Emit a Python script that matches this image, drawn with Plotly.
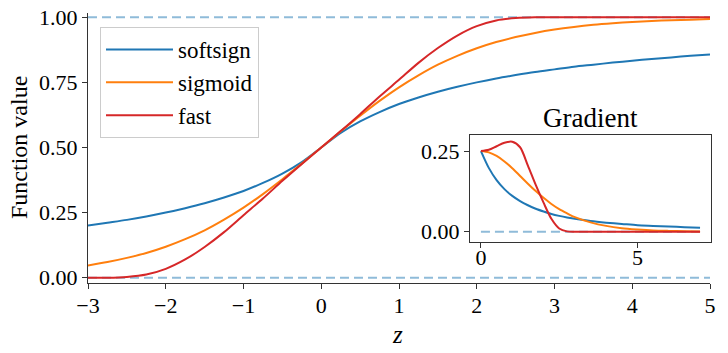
import plotly.graph_objects as go

# ---- data ----
z = [-3.0, -2.75, -2.5, -2.25, -2.0, -1.75, -1.5, -1.25, -1.0, -0.75, -0.5, -0.25,
     0.0, 0.25, 0.5, 0.75, 1.0, 1.25, 1.5, 1.75, 2.0, 2.25, 2.5, 2.75,
     3.0, 3.25, 3.5, 3.75, 4.0, 4.25, 4.5, 4.75, 5.0]
softsign = [0.200, 0.211, 0.222, 0.235, 0.250, 0.267, 0.286, 0.308, 0.333, 0.364, 0.400, 0.444,
            0.500, 0.556, 0.600, 0.636, 0.667, 0.692, 0.714, 0.733, 0.750, 0.765, 0.778, 0.790,
            0.800, 0.810, 0.818, 0.826, 0.833, 0.840, 0.846, 0.852, 0.857]
sigmoid = [0.047, 0.060, 0.076, 0.095, 0.119, 0.148, 0.182, 0.223, 0.269, 0.321, 0.378, 0.438,
           0.500, 0.562, 0.622, 0.679, 0.731, 0.777, 0.818, 0.852, 0.881, 0.905, 0.924, 0.940,
           0.953, 0.963, 0.971, 0.977, 0.982, 0.986, 0.989, 0.991, 0.993]
fast = [0.000, 0.000, 0.003, 0.012, 0.034, 0.070, 0.118, 0.175, 0.240, 0.304, 0.372, 0.437,
        0.500, 0.563, 0.628, 0.696, 0.760, 0.825, 0.882, 0.930, 0.966, 0.988, 0.997, 1.000,
        1.000, 1.000, 1.000, 1.000, 1.000, 1.000, 1.000, 1.000, 1.000]

zg = [0.0, 0.25, 0.5, 0.75, 1.0, 1.25, 1.5, 1.75, 2.0, 2.25, 2.5, 2.75, 3.0,
      3.5, 4.0, 4.5, 5.0, 5.5, 6.0, 6.5, 7.0]
grad_softsign = [0.250, 0.198, 0.160, 0.132, 0.111, 0.095, 0.082, 0.071, 0.0625, 0.055, 0.049, 0.044, 0.040,
                 0.033, 0.028, 0.024, 0.020, 0.018, 0.016, 0.014, 0.012]
grad_sigmoid = [0.250, 0.246, 0.235, 0.218, 0.197, 0.173, 0.149, 0.126, 0.105, 0.086, 0.070, 0.057, 0.045,
                0.029, 0.018, 0.011, 0.007, 0.004, 0.0025, 0.0015, 0.0009]
grad_fast = [0.250, 0.254, 0.265, 0.276, 0.279, 0.262, 0.205, 0.145, 0.090, 0.040, 0.010, 0.001, 0.000,
             0.000, 0.000, 0.000, 0.000, 0.000, 0.000, 0.000, 0.000]

bounds_x = [-3, 5]
lower = [0, 0]
upper = [1, 1]
inset_x = [0, 7]
inset_zero = [0, 0]

names = ["softsign", "sigmoid", "fast"]
colors = ["#1f77b4", "#ff7f0e", "#d62728"]
FONT = "Liberation Serif, Times New Roman, Tinos, DejaVu Serif, serif"
dash_color = "rgba(31,119,180,0.5)"

# body margin is removed below, so the figure fills the 728x353 window
W, H, OFF = 728, 353, 0
def px(x):
    return (x - OFF) / W
def py(y):
    return (H - (y - OFF)) / H

fig = go.Figure()

for yy in (lower, upper):
    fig.add_trace(go.Scatter(x=bounds_x, y=yy, mode="lines", showlegend=False,
                             line=dict(color=dash_color, width=2, dash="9px,5px"),
                             hoverinfo="skip", xaxis="x", yaxis="y"))

for name, ys, c in zip(names, [softsign, sigmoid, fast], colors):
    fig.add_trace(go.Scatter(x=z, y=ys, mode="lines", name=name, legendgroup=name,
                             line=dict(color=c, width=2, shape="spline", smoothing=0.8),
                             xaxis="x", yaxis="y"))

fig.add_trace(go.Scatter(x=inset_x, y=inset_zero, mode="lines", showlegend=False,
                         line=dict(color=dash_color, width=2, dash="9px,5px"),
                         hoverinfo="skip", xaxis="x2", yaxis="y2"))
for name, ys, c in zip(names, [grad_softsign, grad_sigmoid, grad_fast], colors):
    fig.add_trace(go.Scatter(x=zg, y=ys, mode="lines", name=name, showlegend=False,
                             line=dict(color=c, width=2, shape="spline", smoothing=0.8),
                             xaxis="x2", yaxis="y2"))

axis_common = dict(showgrid=False, zeroline=False, showline=True, linecolor="#333333",
                   linewidth=1.2, ticks="outside", ticklen=5, tickwidth=1.2, tickcolor="#333333",
                   automargin=False, ticklabeloverflow="allow",
                   tickfont=dict(family=FONT, size=22, color="black"))

fig.update_layout(
    width=W, height=H,
    margin=dict(l=0, r=0, t=0, b=0),
    paper_bgcolor="white", plot_bgcolor="white",
    font=dict(family=FONT, size=22, color="black"),
    xaxis=dict(domain=[px(88), px(710)], range=[-3, 5], tickvals=[-3, -2, -1, 0, 1, 2, 3, 4, 5],
               ticktext=["\u22123", "\u22122", "\u22121", "0", "1", "2", "3", "4", "5"],
               ticklabelstandoff=-3, anchor="y", **axis_common),
    yaxis=dict(domain=[py(283), py(13)], range=[-0.0204, 1.0165],
               tickvals=[0, 0.25, 0.5, 0.75, 1.0], ticktext=["0.00", "0.25", "0.50", "0.75", "1.00"],
               anchor="x", **axis_common),
    xaxis2=dict(domain=[px(470), px(711)], range=[-0.35, 7.35], tickvals=[0, 5],
                ticklabelstandoff=-10, anchor="y2", mirror=True, **axis_common),
    yaxis2=dict(domain=[py(242), py(135)], range=[-0.032, 0.30],
                tickvals=[0, 0.25], ticktext=["0.00", "0.25"],
                anchor="x2", mirror=True, **axis_common),
    legend=dict(x=px(100), y=py(27), xanchor="left", yanchor="top",
                bordercolor="#cccccc", borderwidth=1, bgcolor="rgba(255,255,255,0.8)",
                font=dict(family=FONT, size=23), tracegroupgap=0, itemwidth=67),
    annotations=[
        dict(text="Gradient", x=px(590.5), y=py(118), xref="paper", yref="paper",
             showarrow=False, xanchor="center", yanchor="middle",
             font=dict(family=FONT, size=27, color="black")),
        dict(text="<i>z</i>", x=px(398), y=py(334), xref="paper", yref="paper",
             showarrow=False, xanchor="center", yanchor="middle",
             font=dict(family=FONT, size=25, color="black")),
        dict(text="Function value", x=px(19), y=py(148), xref="paper", yref="paper",
             showarrow=False, xanchor="center", yanchor="middle", textangle=-90,
             font=dict(family=FONT, size=24, color="black")),
    ],
)

fig.write_html("out.html", config={"displayModeBar": False},
               post_script="document.body.style.margin='0px';")
